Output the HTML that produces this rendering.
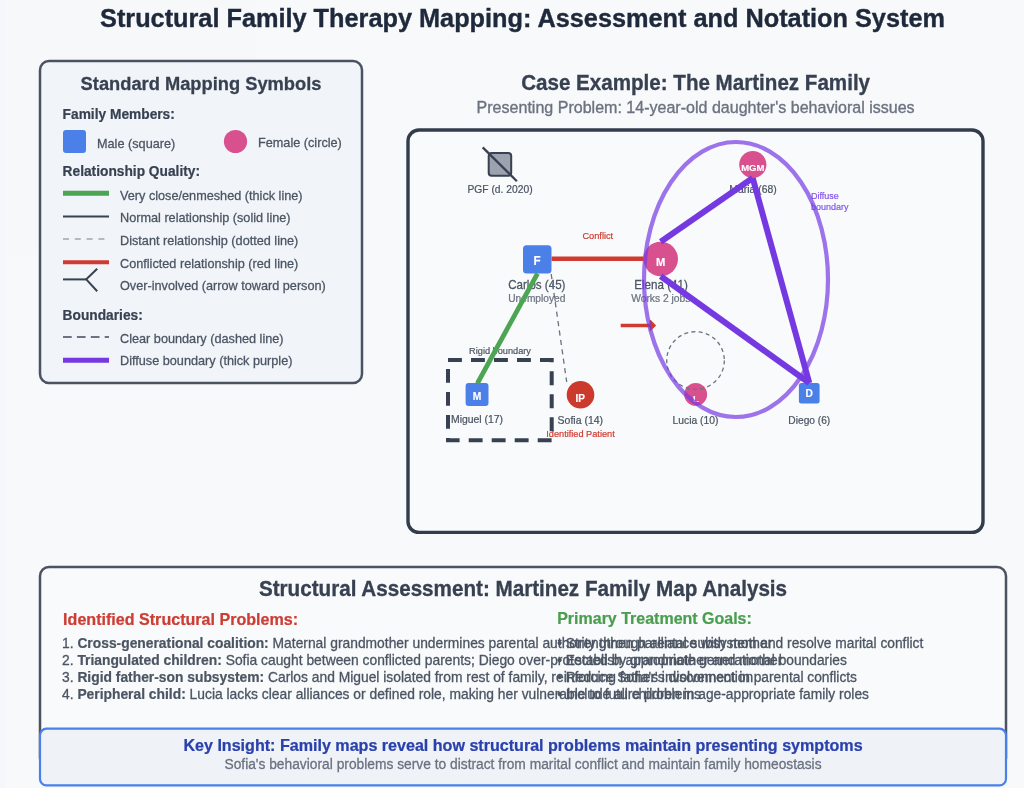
<!DOCTYPE html>
<html><head><meta charset="utf-8">
<style>
html,body{margin:0;padding:0;background:#f5f7fa;width:1024px;height:788px;overflow:hidden}
svg{position:absolute;left:0;top:0;display:block;will-change:transform;opacity:0.999}
text{font-family:"Liberation Sans",sans-serif}
</style></head>
<body>
<svg width="1024" height="788" viewBox="0 0 1024 788">
<rect x="6" y="0" width="1018" height="788" fill="#f8f9fb"/>
<text transform="translate(522.5,26.5) scale(1,1.04)" x="0" y="0" font-size="25.3" font-weight="bold" text-anchor="middle" fill="#1e293b" stroke="#1e293b" stroke-width="0.367">Structural Family Therapy Mapping: Assessment and Notation System</text>
<rect x="40" y="61" width="322" height="322" rx="9" fill="#f1f4f8" stroke="#4b5262" stroke-width="2.5"/>
<text transform="translate(201,89.7) scale(1,1.04)" x="0" y="0" font-size="18.3" font-weight="bold" text-anchor="middle" fill="#374151" stroke="#374151" stroke-width="0.265">Standard Mapping Symbols</text>
<text transform="translate(62.6,119.1) scale(1,1.04)" x="0" y="0" font-size="13.75" font-weight="bold" fill="#374151" stroke="#374151" stroke-width="0.199">Family Members:</text>
<rect x="63" y="130" width="23" height="23" rx="3" fill="#4b80e8"/>
<text transform="translate(97,147.7) scale(1,1.04)" x="0" y="0" font-size="12.7" fill="#4b5563" stroke="#4b5563" stroke-width="0.267">Male (square)</text>
<circle cx="235.5" cy="141.5" r="11.6" fill="#d9508f"/>
<text transform="translate(258,147.4) scale(1,1.04)" x="0" y="0" font-size="12.7" fill="#4b5563" stroke="#4b5563" stroke-width="0.267">Female (circle)</text>
<text transform="translate(62.6,175.8) scale(1,1.04)" x="0" y="0" font-size="13.75" font-weight="bold" fill="#374151" stroke="#374151" stroke-width="0.199">Relationship Quality:</text>
<line x1="63" y1="193.3" x2="109" y2="193.3" stroke="#4ba552" stroke-width="5"/>
<text transform="translate(120,199.5) scale(1,1.04)" x="0" y="0" font-size="12.7" fill="#4b5563" stroke="#4b5563" stroke-width="0.267">Very close/enmeshed (thick line)</text>
<line x1="63" y1="216.4" x2="109" y2="216.4" stroke="#374151" stroke-width="2"/>
<text transform="translate(120,221.9) scale(1,1.04)" x="0" y="0" font-size="12.7" fill="#4b5563" stroke="#4b5563" stroke-width="0.267">Normal relationship (solid line)</text>
<line x1="63" y1="239" x2="109" y2="239" stroke="#7a808c" stroke-width="1.2" stroke-dasharray="6,5.8"/>
<text transform="translate(120,244.8) scale(1,1.04)" x="0" y="0" font-size="12.7" fill="#4b5563" stroke="#4b5563" stroke-width="0.267">Distant relationship (dotted line)</text>
<line x1="63" y1="262.3" x2="109" y2="262.3" stroke="#cf3b30" stroke-width="4"/>
<text transform="translate(120,267.5) scale(1,1.04)" x="0" y="0" font-size="12.7" fill="#4b5563" stroke="#4b5563" stroke-width="0.267">Conflicted relationship (red line)</text>
<line x1="63" y1="279.4" x2="86.25" y2="279.4" stroke="#374151" stroke-width="2"/>
<polyline points="97.2,268.75 86.25,279.4 97.2,291.25" fill="none" stroke="#374151" stroke-width="2"/>
<text transform="translate(120,290.2) scale(1,1.04)" x="0" y="0" font-size="12.7" fill="#4b5563" stroke="#4b5563" stroke-width="0.267">Over-involved (arrow toward person)</text>
<text transform="translate(62.6,319.5) scale(1,1.04)" x="0" y="0" font-size="13.75" font-weight="bold" fill="#374151" stroke="#374151" stroke-width="0.199">Boundaries:</text>
<line x1="63" y1="336.9" x2="109" y2="336.9" stroke="#6b7280" stroke-width="2" stroke-dasharray="8.7,5.2"/>
<text transform="translate(120,342.7) scale(1,1.04)" x="0" y="0" font-size="12.7" fill="#4b5563" stroke="#4b5563" stroke-width="0.267">Clear boundary (dashed line)</text>
<line x1="63" y1="360.2" x2="109" y2="360.2" stroke="#7539e2" stroke-width="5"/>
<text transform="translate(120,365.3) scale(1,1.04)" x="0" y="0" font-size="12.7" fill="#4b5563" stroke="#4b5563" stroke-width="0.267">Diffuse boundary (thick purple)</text>
<text transform="translate(695.6,89.9) scale(1,1.04)" x="0" y="0" font-size="20.6" font-weight="bold" text-anchor="middle" fill="#374151" stroke="#374151" stroke-width="0.299">Case Example: The Martinez Family</text>
<text transform="translate(695.6,112.6) scale(1,1.04)" x="0" y="0" font-size="16.05" text-anchor="middle" fill="#6b7280" stroke="#6b7280" stroke-width="0.337">Presenting Problem: 14-year-old daughter's behavioral issues</text>
<rect x="408" y="130" width="575" height="402.4" rx="11" fill="#f9fafb" stroke="#343c4c" stroke-width="3.4"/>
<text transform="translate(500,192.5) scale(1,1.04)" x="0" y="0" font-size="10.3" text-anchor="middle" fill="#4b5563" stroke="#4b5563" stroke-width="0.216">PGF (d. 2020)</text>
<text transform="translate(597.8,239.3) scale(1,1.04)" x="0" y="0" font-size="9.2" text-anchor="middle" fill="#cf3b30" stroke="#cf3b30" stroke-width="0.193">Conflict</text>
<text transform="translate(536.8,288.6) scale(1,1.04)" x="0" y="0" font-size="11.6" text-anchor="middle" fill="#4b5563" stroke="#4b5563" stroke-width="0.244">Carlos (45)</text>
<text transform="translate(536.8,302.1) scale(1,1.04)" x="0" y="0" font-size="10.2" text-anchor="middle" fill="#6b7280" stroke="#6b7280" stroke-width="0.214">Unemployed</text>
<text transform="translate(661,288.6) scale(1,1.04)" x="0" y="0" font-size="11.6" text-anchor="middle" fill="#4b5563" stroke="#4b5563" stroke-width="0.244">Elena (41)</text>
<text transform="translate(660.8,301.9) scale(1,1.04)" x="0" y="0" font-size="10.3" text-anchor="middle" fill="#6b7280" stroke="#6b7280" stroke-width="0.216">Works 2 jobs</text>
<text transform="translate(753,192.9) scale(1,1.04)" x="0" y="0" font-size="10.4" text-anchor="middle" fill="#4b5563" stroke="#4b5563" stroke-width="0.218">Maria (68)</text>
<text transform="translate(811,198.7) scale(1,1.04)" x="0" y="0" font-size="9" fill="#8456ea" stroke="#8456ea" stroke-width="0.189">Diffuse</text>
<text transform="translate(811,209.7) scale(1,1.04)" x="0" y="0" font-size="9" fill="#8456ea" stroke="#8456ea" stroke-width="0.189">boundary</text>
<text transform="translate(500,353.7) scale(1,1.04)" x="0" y="0" font-size="9.2" text-anchor="middle" fill="#4b5563" stroke="#4b5563" stroke-width="0.193">Rigid boundary</text>
<text transform="translate(477,423.3) scale(1,1.04)" x="0" y="0" font-size="10.4" text-anchor="middle" fill="#4b5563" stroke="#4b5563" stroke-width="0.218">Miguel (17)</text>
<text transform="translate(580.3,423.7) scale(1,1.04)" x="0" y="0" font-size="10.5" text-anchor="middle" fill="#4b5563" stroke="#4b5563" stroke-width="0.221">Sofia (14)</text>
<text transform="translate(580.5,436.6) scale(1,1.04)" x="0" y="0" font-size="9.2" text-anchor="middle" fill="#cf3b30" stroke="#cf3b30" stroke-width="0.193">Identified Patient</text>
<text transform="translate(695.5,423.6) scale(1,1.04)" x="0" y="0" font-size="10.3" text-anchor="middle" fill="#4b5563" stroke="#4b5563" stroke-width="0.216">Lucia (10)</text>
<text transform="translate(809.3,423.6) scale(1,1.04)" x="0" y="0" font-size="10.2" text-anchor="middle" fill="#4b5563" stroke="#4b5563" stroke-width="0.214">Diego (6)</text>
<rect x="488.7" y="153" width="22.5" height="22.7" rx="3" fill="#9ca3af" stroke="#374151" stroke-width="2"/>
<line x1="482.7" y1="147.4" x2="516.9" y2="181.25" stroke="#374151" stroke-width="2.3"/>
<rect x="448" y="360" width="103.7" height="80.2" fill="none" stroke="#374151" stroke-width="4" stroke-dasharray="13.9,9.1"/>
<rect x="523" y="245.3" width="28.5" height="28.2" rx="3.5" fill="#4b80e8"/>
<text transform="translate(537,264.9) scale(1,1.04)" x="0" y="0" font-size="11.6" font-weight="bold" text-anchor="middle" fill="#fff" stroke="#fff" stroke-width="0.168">F</text>
<circle cx="660.7" cy="259" r="17.3" fill="#d9508f"/>
<text transform="translate(660.7,265.8) scale(1,1.04)" x="0" y="0" font-size="11.2" font-weight="bold" text-anchor="middle" fill="#fff" stroke="#fff" stroke-width="0.162">M</text>
<circle cx="752.8" cy="164.5" r="13.6" fill="#d9508f"/>
<text transform="translate(752.8,170.9) scale(1,1.04)" x="0" y="0" font-size="9.5" font-weight="bold" text-anchor="middle" fill="#fff" stroke="#fff" stroke-width="0.138">MGM</text>
<rect x="465.6" y="383.1" width="22.9" height="23" rx="3" fill="#4b80e8"/>
<text transform="translate(477,400.2) scale(1,1.04)" x="0" y="0" font-size="10.3" font-weight="bold" text-anchor="middle" fill="#fff" stroke="#fff" stroke-width="0.149">M</text>
<circle cx="580.5" cy="394.8" r="13.8" fill="#cc3a2e"/>
<text transform="translate(580.3,402) scale(1,1.04)" x="0" y="0" font-size="10" font-weight="bold" text-anchor="middle" fill="#fff" stroke="#fff" stroke-width="0.145">IP</text>
<circle cx="695.7" cy="394.4" r="11.4" fill="#d9508f"/>
<text transform="translate(695.8,401.5) scale(1,1.04)" x="0" y="0" font-size="9.3" font-weight="bold" text-anchor="middle" fill="#fff" stroke="#fff" stroke-width="0.135">L</text>
<rect x="798.9" y="382.9" width="20.7" height="20.7" rx="2.5" fill="#4b80e8"/>
<text transform="translate(809.3,397.2) scale(1,1.04)" x="0" y="0" font-size="10.2" font-weight="bold" text-anchor="middle" fill="#fff" stroke="#fff" stroke-width="0.148">D</text>
<line x1="551.6" y1="258.8" x2="643.4" y2="258.8" stroke="#cf3b30" stroke-width="4.6"/>
<line x1="537.5" y1="273.5" x2="477.3" y2="383.5" stroke="#4ba552" stroke-width="4.7"/>
<line x1="551.2" y1="274" x2="566.7" y2="382" stroke="#6b7280" stroke-width="1.3" stroke-dasharray="5.2,4.3"/>
<line x1="660.7" y1="241.7" x2="752.7" y2="178" stroke="#7539e2" stroke-width="6"/>
<line x1="752.7" y1="178" x2="809.3" y2="383" stroke="#7539e2" stroke-width="6"/>
<line x1="660.7" y1="276.3" x2="809.3" y2="383" stroke="#7539e2" stroke-width="6"/>
<line x1="620.7" y1="325.5" x2="650" y2="325.5" stroke="#cf3b30" stroke-width="3.5"/>
<polygon points="650.3,320.6 655.2,325.4 650.3,330.2" fill="#cf3b30" stroke="#cf3b30" stroke-width="1.4" stroke-linejoin="round"/>
<circle cx="695.5" cy="360.5" r="28.8" fill="none" stroke="#6b7280" stroke-width="1.3" stroke-dasharray="4,3.3"/>
<ellipse cx="736" cy="279.5" rx="92" ry="137.5" fill="none" stroke="#7539e2" stroke-opacity="0.7" stroke-width="4.2"/>
<rect x="40" y="567" width="966" height="200" rx="9" fill="#f9fafb" stroke="#4b5262" stroke-width="2.5"/>
<text transform="translate(523,595.6) scale(1,1.04)" x="0" y="0" font-size="20.65" font-weight="bold" text-anchor="middle" fill="#374151" stroke="#374151" stroke-width="0.299">Structural Assessment: Martinez Family Map Analysis</text>
<text transform="translate(63.1,624.6) scale(1,1.04)" x="0" y="0" font-size="16.1" font-weight="bold" fill="#cc3d33" stroke="#cc3d33" stroke-width="0.233">Identified Structural Problems:</text>
<text transform="translate(557.2,623.7) scale(1,1.04)" x="0" y="0" font-size="16" font-weight="bold" fill="#4a9e4f" stroke="#4a9e4f" stroke-width="0.232">Primary Treatment Goals:</text>
<text transform="translate(62,647.8) scale(1,1.04)" x="0" y="0" font-size="13.85" fill="#4b5563" stroke="#4b5563" stroke-width="0.291">1. <tspan font-weight="bold" stroke-width="0.2">Cross-generational coalition:</tspan> Maternal grandmother undermines parental authority through alliance with mother</text>
<text transform="translate(62,664.9) scale(1,1.04)" x="0" y="0" font-size="13.85" fill="#4b5563" stroke="#4b5563" stroke-width="0.291">2. <tspan font-weight="bold" stroke-width="0.2">Triangulated children:</tspan> Sofia caught between conflicted parents; Diego over-protected by grandmother and mother</text>
<text transform="translate(62,681.8) scale(1,1.04)" x="0" y="0" font-size="13.85" fill="#4b5563" stroke="#4b5563" stroke-width="0.291">3. <tspan font-weight="bold" stroke-width="0.2">Rigid father-son subsystem:</tspan> Carlos and Miguel isolated from rest of family, reinforcing father's disconnection</text>
<text transform="translate(62,698.9) scale(1,1.04)" x="0" y="0" font-size="13.85" fill="#4b5563" stroke="#4b5563" stroke-width="0.291">4. <tspan font-weight="bold" stroke-width="0.2">Peripheral child:</tspan> Lucia lacks clear alliances or defined role, making her vulnerable to future problems</text>
<text transform="translate(557.2,647.8) scale(1,1.04)" x="0" y="0" font-size="13.78" fill="#4b5563" stroke="#4b5563" stroke-width="0.289">• Strengthen parental subsystem and resolve marital conflict</text>
<text transform="translate(557.2,664.9) scale(1,1.04)" x="0" y="0" font-size="13.78" fill="#4b5563" stroke="#4b5563" stroke-width="0.289">• Establish appropriate generational boundaries</text>
<text transform="translate(557.2,681.8) scale(1,1.04)" x="0" y="0" font-size="13.78" fill="#4b5563" stroke="#4b5563" stroke-width="0.289">• Reduce Sofia's involvement in parental conflicts</text>
<text transform="translate(557.2,698.9) scale(1,1.04)" x="0" y="0" font-size="13.78" fill="#4b5563" stroke="#4b5563" stroke-width="0.289">• Include all children in age-appropriate family roles</text>
<rect x="40" y="728.7" width="966" height="56.7" rx="6.5" fill="#eff3f8" stroke="#4a80ea" stroke-width="2.2"/>
<text transform="translate(523,750.8) scale(1,1.04)" x="0" y="0" font-size="16.1" font-weight="bold" text-anchor="middle" fill="#2a40ab" stroke="#2a40ab" stroke-width="0.233">Key Insight: Family maps reveal how structural problems maintain presenting symptoms</text>
<text transform="translate(523,768.6) scale(1,1.04)" x="0" y="0" font-size="13.8" text-anchor="middle" fill="#6b7280" stroke="#6b7280" stroke-width="0.29">Sofia's behavioral problems serve to distract from marital conflict and maintain family homeostasis</text>
</svg>
</body></html>
